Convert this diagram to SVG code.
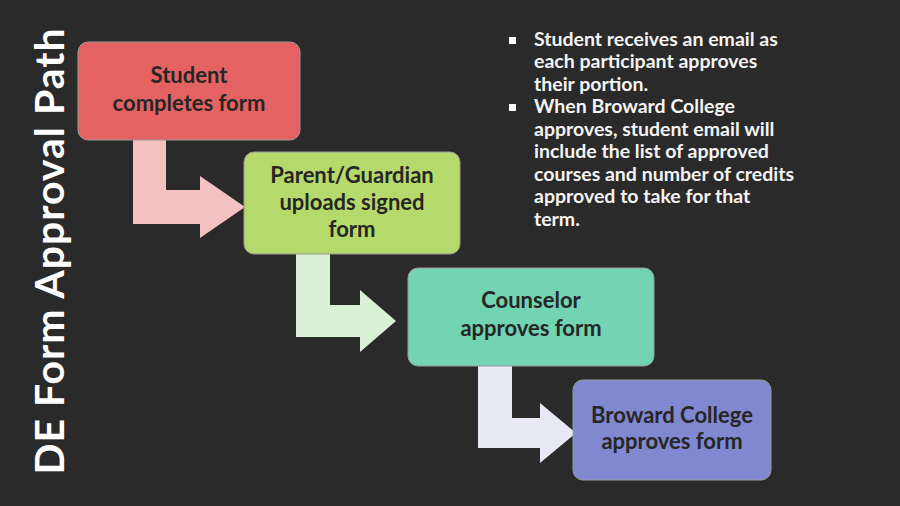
<svg xmlns="http://www.w3.org/2000/svg" width="900" height="506" viewBox="0 0 900 506">
<style>
.n{stroke:#9a9a9a;stroke-width:1}
.t{font-family:Lato,"Open Sans",sans-serif;font-weight:bold;font-size:22px;fill:#262626;text-anchor:middle}
.b{font-family:Lato,"Open Sans",sans-serif;font-size:19.5px;font-weight:bold;fill:#f4f4f4}
</style>
<rect width="900" height="506" fill="#2a2a2a"/>
<text transform="translate(64,251) rotate(-90)" text-anchor="middle" font-family="Lato,'Open Sans',sans-serif" font-weight="bold" font-size="41" letter-spacing="1" fill="#ffffff">DE Form Approval Path</text>
<g id="connectors">
<path d="M133,140 H166 V190 H200 V176 L245,207 L200,238 V224 H133 Z" fill="#f3c1c1"/>
<path d="M296,254 H330 V305 H360 V290 L396,321 L360,352 V337 H296 Z" fill="#d9f1d4"/>
<path d="M478,366 H512 V418 H540 V403 L576,433 L540,463 V448 H478 Z" fill="#e9e9f6"/>
</g>
<g id="node1"><rect class="n" x="78" y="42" width="222" height="98" rx="10" fill="#e46262"/>
<text class="t" x="189" y="83">Student</text><text class="t" x="189" y="111">completes form</text></g>
<g id="node2"><rect class="n" x="244" y="152" width="216" height="102" rx="10" fill="#b6d96b"/>
<text class="t" x="352" y="183">Parent/Guardian</text><text class="t" x="352" y="210">uploads signed</text><text class="t" x="352" y="237">form</text></g>
<g id="node3"><rect class="n" x="408" y="268" width="246" height="98" rx="10" fill="#72d4b2"/>
<text class="t" x="531" y="308">Counselor</text><text class="t" x="531" y="336">approves form</text></g>
<g id="node4"><rect class="n" x="573" y="380" width="198" height="100" rx="10" fill="#8088d0"/>
<text class="t" x="672" y="423" font-size="19.5">Broward College</text><text class="t" x="672" y="449" font-size="19.5">approves form</text></g>
<g id="bullets">
<rect x="509" y="37" width="7" height="7" fill="#fff"/>
<rect x="509" y="104" width="7" height="7" fill="#fff"/>
<text class="b" x="534" y="46">Student receives an email as</text>
<text class="b" x="534" y="68">each participant approves</text>
<text class="b" x="534" y="91">their portion.</text>
<text class="b" x="534" y="113">When Broward College</text>
<text class="b" x="534" y="136">approves, student email will</text>
<text class="b" x="534" y="158">include the list of approved</text>
<text class="b" x="534" y="181">courses and number of credits</text>
<text class="b" x="534" y="203">approved to take for that</text>
<text class="b" x="534" y="226">term.</text>
</g>
</svg>
